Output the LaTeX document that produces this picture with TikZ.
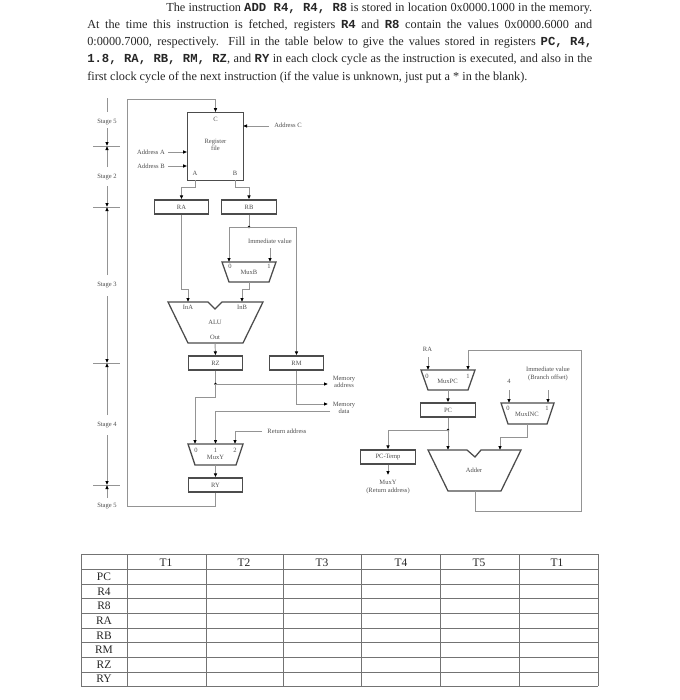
\documentclass[tikz,border=0pt]{standalone}
\usepackage{fontspec}
\setmainfont{Liberation Serif}
\setmonofont{Liberation Mono}
\usepackage{tikz}
\usetikzlibrary{arrows.meta}

\definecolor{wiregray}{gray}{0.58}
\definecolor{boxgray}{gray}{0.3}
\newcommand{\regname}[1]{\textbf{\ttfamily #1}}
\newcommand{\bodyline}[2]{\makebox[#1][s]{#2}}

\tikzset{
	wire/.style={draw=wiregray, line width=0.7pt, -{Latex[length=3pt,width=2.8pt,black]}},
	plainwire/.style={draw=wiregray, line width=0.7pt},
	regbox/.style={draw=boxgray, line width=0.95pt, minimum width=41pt, minimum height=10.5pt, inner sep=0pt, text=black!70, font=\fontsize{4.9}{5.5}\selectfont},
	unit/.style={draw=boxgray, line width=0.95pt, line join=miter},
	lbl/.style={inner sep=0pt, text=black!70, font=\fontsize{4.9}{5.6}\selectfont, align=center},
	bodytext/.style={inner sep=0pt, anchor=west, text height=7pt, text depth=2pt, font=\fontsize{9.2}{11}\selectfont, text=black!85},
	celltext/.style={inner sep=0pt, font=\fontsize{8.6}{10}\selectfont, text=black!85},
	gridline/.style={draw=black!55, line width=0.7pt}
}

\begin{document}
\begin{tikzpicture}[x=0.75pt, y=-0.75pt]
	\useasboundingbox (0, 0) rectangle (680, 700);

	% question
	\node [bodytext] (line1) at (166, 7.7) {\bodyline{319.5pt}{The instruction \regname{ADD R4, R4, R8} is stored in location 0x0000.1000 in the memory.}};
	\node [bodytext] (line2) at (87, 24.7) {\bodyline{378.75pt}{At the time this instruction is fetched, registers \regname{R4} and \regname{R8} contain the values 0x0000.6000 and}};
	\node [bodytext] (line3) at (87, 42) {\bodyline{378.75pt}{0:0000.7000, respectively. Fill in the table below to give the values stored in registers \regname{PC, R4,}}};
	\node [bodytext] (line4) at (87, 59.5) {\bodyline{378.75pt}{\regname{1.8, RA, RB, RM, RZ}, and \regname{RY} in each clock cycle as the instruction is executed, and also in the}};
	\node [bodytext] (line5) at (87, 76.7) {first clock cycle of the next instruction (if the value is unknown, just put a * in the blank).};

	% stage markers
	\foreach \y/\name in {122/5, 177/2, 285/3, 425/4, 506/5}
		\node [lbl] (stage\y) at (107, \y) {Stage \name};
	\foreach \y in {146, 207, 363, 485} {
		\coordinate (tickl\y) at (93, \y);
		\coordinate (tickr\y) at (120, \y);
		\draw [plainwire] (tickl\y) -- (tickr\y);
	}
	\coordinate (stagetop) at (107, 98);
	\coordinate (stagebot) at (107, 498);
	\draw [plainwire] (stagetop) -- (107, 112);
	\draw [wire] (107, 128) -- (107 ,146);
	\draw [wire] (107, 167) -- (107, 146);
	\draw [wire] (107, 186) -- (107, 207);
	\draw [wire] (107, 275) -- (107, 207);
	\draw [wire] (107, 296) -- (107, 363);
	\draw [wire] (107, 415) -- (107, 363);
	\draw [wire] (107, 435) -- (107, 485);
	\draw [wire] (stagebot) -- (107, 485);

	% register file
	\node [regbox, minimum width=41.5pt, minimum height=50.5pt] (regfile) at (215.5, 146.5) {};
	\node [lbl] (portC) at (215.5, 119) {C};
	\node [lbl] (regtext) at (215.5, 145) {Register\\file};
	\node [lbl] (portA) at (195, 173) {A};
	\node [lbl] (portB) at (235, 173) {B};
	\coordinate (outA) at (195, 180);
	\coordinate (outB) at (235, 180);
	\node [lbl] (addrA) at (151, 152) {Address A};
	\node [lbl] (addrB) at (151, 166) {Address B};
	\node [lbl] (addrC) at (288, 125) {Address C};
	\draw [wire] (168, 152) -- (regfile.west |- addrA);
	\draw [wire] (168, 166) -- (regfile.west |- addrB);
	\draw [wire] (269, 126) -- (243, 126);

	\node [regbox] (RA) at (181.5, 207) {RA};
	\node [regbox] (RB) at (249, 207) {RB};
	\draw [wire] (outA) -- ++(0, 7) -| (RA.north);
	\draw [wire] (outB) -- ++(0, 7) -| (RB.north);

	% MuxB
	\draw [unit] (222, 262) -- (276, 262) -- (269, 282) -- (229, 282) -- cycle;
	\node [lbl] (muxb) at (249, 272) {MuxB};
	\node [lbl] (muxb0) at (230, 266) {0};
	\node [lbl] (muxb1) at (269, 266) {1};
	\node [lbl] (imm) at (270, 241) {Immediate value};
	\coordinate (muxbin) at (229, 262);
	\coordinate (muxbout) at (249, 282);
	\draw [wire] (270, 248) -- (270, 262);
	\coordinate (rbsplit) at (249, 227);
	\draw [plainwire] (RB.south) -- (rbsplit);
	\fill [black] (rbsplit) circle (1.1pt);
	\draw [wire] (rbsplit) -| (muxbin);

	% ALU
	\draw [unit] (168, 302) -- (208, 302) -- (215, 309) -- (222, 302) -- (263, 302) -- (243, 343) -- (188, 343) -- cycle;
	\node [lbl] (ina) at (188, 307) {InA};
	\node [lbl] (inb) at (242, 307) {InB};
	\node [lbl] (alu) at (215, 322) {ALU};
	\node [lbl] (out) at (215, 337) {Out};
	\coordinate (alua) at (188, 302);
	\coordinate (alub) at (242, 302);
	\coordinate (aluout) at (215, 343);
	\draw [wire] (RA.south) -- (181.5, 289) -| (alua);
	\draw [wire] (muxbout) -- (249, 289) -| (alub);

	\node [regbox] (RZ) at (215.5, 363) {RZ};
	\node [regbox] (RM) at (296.5, 363) {RM};
	\draw [wire] (aluout) -- (RZ.north);
	\draw [wire] (rbsplit) -| (RM.north);

	% memory
	\node [lbl] (memaddr) at (344, 382) {Memory\\address};
	\node [lbl] (memdata) at (344, 408) {Memory\\data};
	\coordinate (rzsplit) at (215.5, 384);
	\coordinate (memin) at (330, 411);
	\draw [plainwire] (RZ.south) -- (rzsplit);
	\fill [black] (rzsplit) circle (1.1pt);
	\draw [wire] (rzsplit) -- (328, 384);
	\draw [wire] (RM.south) |- (328, 404);

	% MuxY
	\draw [unit] (188, 444) -- (243, 444) -- (236, 465) -- (195, 465) -- cycle;
	\node [lbl] (muxy) at (215.5, 457) {MuxY};
	\node [lbl] (muxy0) at (196, 450) {0};
	\node [lbl] (muxy1) at (215.5, 450) {1};
	\node [lbl] (muxy2) at (235, 450) {2};
	\node [lbl] (retaddr) at (287, 431) {Return address};
	\coordinate (muxyout) at (215.5, 465);
	\draw [wire] (rzsplit) -- (215.5, 397) -| (195, 444);
	\draw [wire] (memin) -| (215.5, 444);
	\draw [wire] (262, 431) -| (235, 444);

	\node [regbox] (RY) at (215.5, 485) {RY};
	\draw [wire] (muxyout) -- (RY.north);
	\coordinate (loopcorner) at (127, 506);
	\draw [wire] (RY.south) |- (loopcorner) -- (127, 99) -| (regfile.north);

	% MuxPC
	\draw [unit] (421, 370) -- (475, 370) -- (468, 390) -- (428, 390) -- cycle;
	\node [lbl] (muxpc) at (447.5, 381) {MuxPC};
	\node [lbl] (muxpc0) at (427, 376) {0};
	\node [lbl] (muxpc1) at (468, 376) {1};
	\node [lbl] (raIn) at (427.5, 349) {RA};
	\draw [wire] (428, 357) -- (428, 370);

	\node [regbox] (PC) at (448, 410) {PC};
	\draw [wire] (448, 390) -- (PC.north);
	\coordinate (pcsplit) at (448, 430);
	\draw [plainwire] (PC.south) -- (pcsplit);
	\fill [black] (pcsplit) circle (1.1pt);
	\draw [wire] (pcsplit) -- (448, 450);

	\node [regbox] (PCTemp) at (388, 457) {PC-Temp};
	\draw [wire] (pcsplit) -| (PCTemp.north);
	\node [lbl] (retmux) at (388, 487) {MuxY\\(Return address)};
	\draw [wire] (PCTemp.south) -- (388, 475);

	% adder
	\draw [unit] (428, 450) -- (467, 450) -- (475, 457) -- (481, 450) -- (521, 450) -- (501, 491) -- (448, 491) -- cycle;
	\node [lbl] (adder) at (474, 470) {Adder};
	\coordinate (adderout) at (475, 491);
	\draw [wire] (adderout) -- (475, 511) -- (581, 511) -- (581, 350) -- (468, 350) -- (468, 370);

	% MuxINC
	\draw [unit] (501, 403) -- (554, 403) -- (547, 424) -- (508, 424) -- cycle;
	\node [lbl] (muxinc) at (527, 414) {MuxINC};
	\node [lbl] (muxinc0) at (508, 408) {0};
	\node [lbl] (muxinc1) at (547, 408) {1};
	\node [lbl] (four) at (509, 381) {4};
	\node [lbl] (branch) at (548, 374) {Immediate value\\(Branch offset)};
	\draw [wire] (509, 390) -- (509, 403);
	\draw [wire] (548, 390) -- (548, 403);
	\draw [wire] (527, 424) -- (527, 437) -| (500, 450);

	% table
	\foreach \y in {554, 569, 584, 598, 613, 628, 642, 657, 672, 686}
		\draw [gridline] (81, \y) -- (598, \y);
	\foreach \x in {81, 127, 206, 283, 361, 440, 519, 598}
		\draw [gridline] (\x, 554) -- (\x, 686);
	\foreach \x/\name [count=\i] in {166/T1, 244/T2, 322/T3, 401/T4, 479/T5, 557/T1}
		\node [celltext] (head\i) at (\x, 562.5) {\name};
	\foreach \y/\name in {577/PC, 592/R4, 606/R8, 621/RA, 636/RB, 650/RM, 665/RZ, 679/RY}
		\node [celltext] (row\name) at (104, \y) {\name};
\end{tikzpicture}
\end{document}
